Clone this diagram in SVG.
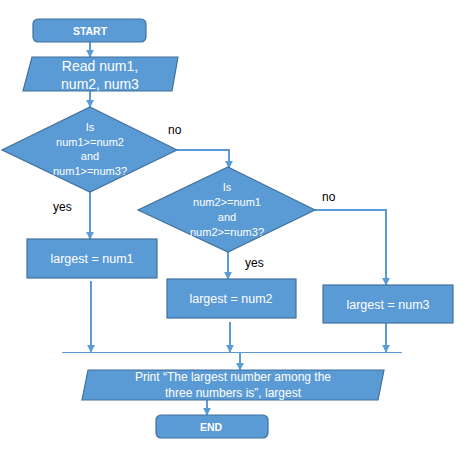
<svg xmlns="http://www.w3.org/2000/svg" width="474" height="455" viewBox="0 0 474 455">
<defs>
<marker id="arr" viewBox="0 0 10 10" refX="9" refY="5" markerWidth="4" markerHeight="4" orient="auto" markerUnits="strokeWidth">
<path d="M0,0 L10,5 L0,10 z" fill="#5B9BD5"/>
</marker>
<style>
.shape{fill:#5B9BD5;stroke:#41719C;stroke-width:1.2}
.t{font-family:"Liberation Sans",Arial,sans-serif;fill:#FFFFFF;text-anchor:middle}
.lbl{font-family:"Liberation Sans",Arial,sans-serif;fill:#000000;font-size:12px}
.c{stroke:#5B9BD5;stroke-width:2;fill:none}
.ca{stroke:#5B9BD5;stroke-width:2;fill:none;marker-end:url(#arr)}
</style>
</defs>
<rect width="474" height="455" fill="#FFFFFF"/>
<g id="connectors">
<path class="ca" d="M90,42 V57"/>
<path class="ca" d="M90,91 V107"/>
<path class="ca" d="M177,150 H229 V168"/>
<path class="ca" d="M90,192 V239"/>
<path class="ca" d="M315,210 H386 V285"/>
<path class="ca" d="M228,252 V279"/>
<path class="ca" d="M91,281 V352"/>
<path class="ca" d="M230,322 V352"/>
<path class="ca" d="M386,323 V352"/>
<path stroke="#5B9BD5" stroke-width="1" fill="none" d="M62,352.5 H402"/>
<path class="ca" d="M240,353 V370"/>
<path class="ca" d="M207,400 V415"/>
</g>
<g id="start">
<rect class="shape" x="33" y="19" width="113" height="23" rx="5"/>
<text class="t" x="90" y="35" font-size="10.5" font-weight="bold">START</text>
</g>
<g id="read">
<polygon class="shape" points="32,57 178,57 172,91 23,91"/>
<text class="t" x="100" y="71" font-size="14">Read num1,</text>
<text class="t" x="100" y="89" font-size="14">num2, num3</text>
</g>
<g id="decision1">
<polygon class="shape" points="90,107 177,150 90,192 2,150"/>
<text class="t" x="90" y="131" font-size="11">Is</text>
<text class="t" x="90" y="146" font-size="11">num1&gt;=num2</text>
<text class="t" x="90" y="160" font-size="11">and</text>
<text class="t" x="90" y="175" font-size="11">num1&gt;=num3?</text>
</g>
<text class="lbl" x="168" y="134">no</text>
<text class="lbl" x="53" y="211">yes</text>
<g id="decision2">
<polygon class="shape" points="228,167 315,210 228,252 138,210"/>
<text class="t" x="227" y="191" font-size="11">Is</text>
<text class="t" x="227" y="206" font-size="11">num2&gt;=num1</text>
<text class="t" x="227" y="221" font-size="11">and</text>
<text class="t" x="227" y="236" font-size="11">num2&gt;=num3?</text>
</g>
<text class="lbl" x="322" y="201">no</text>
<text class="lbl" x="245" y="267">yes</text>
<g id="box1">
<rect class="shape" x="27" y="239" width="130" height="39"/>
<text class="t" x="92" y="263" font-size="12.5">largest = num1</text>
</g>
<g id="box2">
<rect class="shape" x="167" y="279" width="129" height="39"/>
<text class="t" x="231" y="303" font-size="12.5">largest = num2</text>
</g>
<g id="box3">
<rect class="shape" x="323" y="285" width="130" height="38"/>
<text class="t" x="388" y="309" font-size="12.5">largest = num3</text>
</g>
<g id="print">
<polygon class="shape" points="88,370 384,370 378,400 82,400"/>
<text class="t" x="233" y="381" font-size="12">Print “The largest number among the</text>
<text class="t" x="233" y="397" font-size="12">three numbers is”, largest</text>
</g>
<g id="end">
<rect class="shape" x="156" y="415" width="112" height="23" rx="5"/>
<text class="t" x="211" y="431" font-size="10.5" font-weight="bold">END</text>
</g>
</svg>
